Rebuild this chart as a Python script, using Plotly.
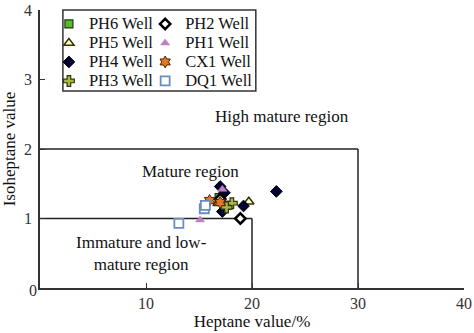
import plotly.graph_objects as go

# Data
ph6_x = [16.9, 17.6]
ph6_y = [1.30, 1.19]
ph5_x = [19.7, 16.8]
ph5_y = [1.24, 1.22]
ph4_x = [22.3, 17.0, 17.4, 17.2, 19.2]
ph4_y = [1.39, 1.46, 1.37, 1.10, 1.18]
ph3_x = [18.1, 17.6]
ph3_y = [1.22, 1.16]
ph2_x = [18.9, 17.0]
ph2_y = [1.00, 1.28]
ph1_x = [15.1, 17.2]
ph1_y = [0.98, 1.42]
cx1_x = [16.0, 17.0]
cx1_y = [1.26, 1.23]
dq1_x = [13.1, 15.5, 15.6]
dq1_y = [0.93, 1.14, 1.19]

x_ticks = [10, 20, 30, 40]
y_ticks = [1, 2, 3, 4]

FONT = "Liberation Serif, Times New Roman, serif"

fig = go.Figure()

def spacer(legend):
    # invisible empty entry (keeps the visible rows evenly spaced)
    fig.add_trace(go.Scatter(x=[], y=[], mode="markers", name=" ", legend=legend,
                             marker=dict(color="rgba(0,0,0,0)", size=1),
                             hoverinfo="skip"))

def add(name, xs, ys, symbol, color, lcolor, lwidth, size, legend):
    fig.add_trace(go.Scatter(
        x=xs, y=ys, mode="markers", legend=legend,
        name='<span style="font-size:16.5px">' + name + '</span>',
        marker=dict(symbol=symbol, color=color, size=size,
                    line=dict(color=lcolor, width=lwidth)),
    ))

spacer("legend")
add("PH6 Well", ph6_x, ph6_y, "square", "#5cb82e", "#1a3a10", 1.2, 8, "legend")
add("PH5 Well", ph5_x, ph5_y, "triangle-up", "#ffffcc", "#333300", 1.5, 9, "legend")
add("PH4 Well", ph4_x, ph4_y, "diamond", "#000030", "#000000", 1, 9, "legend")
add("PH3 Well", ph3_x, ph3_y, "cross", "#a8b840", "#333311", 1.2, 9, "legend")
spacer("legend2")
add("PH2 Well", ph2_x, ph2_y, "diamond", "#ffffff", "#000000", 2.5, 8, "legend2")
add("PH1 Well", ph1_x, ph1_y, "triangle-up", "#c080c0", "#c080c0", 0.5, 8, "legend2")
add("CX1 Well", cx1_x, cx1_y, "hexagram", "#e07828", "#552200", 1, 9, "legend2")
add("DQ1 Well", dq1_x, dq1_y, "square", "#ffffff", "#6a8cc0", 1.8, 9, "legend2")

# Region boundaries
line = dict(color="#222222", width=1.5)
fig.add_shape(type="line", x0=0, x1=30, y0=2, y1=2, line=line, layer="below")
fig.add_shape(type="line", x0=30, x1=30, y0=0, y1=2, line=line, layer="below")
fig.add_shape(type="line", x0=0, x1=20, y0=1, y1=1, line=line, layer="below")
fig.add_shape(type="line", x0=20, x1=20, y0=0, y1=1, line=line, layer="below")

# Legend box
fig.add_shape(type="rect", xref="paper", yref="paper",
              x0=0.054, x1=0.509, y0=0.709, y1=1.0,
              line=dict(color="#333333", width=1.5), fillcolor="rgba(0,0,0,0)")

ann_font = dict(family=FONT, size=17, color="#111111")
fig.add_annotation(x=22.8, y=2.47, text="High mature region", showarrow=False, font=ann_font)
fig.add_annotation(x=14.2, y=1.67, text="Mature region", showarrow=False, font=ann_font)
fig.add_annotation(x=9.6, y=0.5, text="Immature and low-<br>mature region", showarrow=False,
                   font=ann_font, align="center")
fig.add_annotation(xref="paper", yref="paper", x=-0.031, y=-0.045, text="0",
                   showarrow=False, font=dict(family=FONT, size=16, color="#333333"))

leg_font = dict(family=FONT, size=12, color="#111111")
fig.update_layout(
    width=474, height=333,
    margin=dict(l=40, r=10, t=10, b=45, autoexpand=False),
    plot_bgcolor="white", paper_bgcolor="white",
    font=dict(family=FONT, size=16, color="#222222"),
    showlegend=True,
    legend=dict(x=0.021, y=1.002, xanchor="left", yanchor="top",
                bgcolor="rgba(0,0,0,0)", borderwidth=0, font=leg_font,
                tracegroupgap=0, itemwidth=30, traceorder="normal"),
    legend2=dict(x=0.248, y=1.002, xanchor="left", yanchor="top",
                 bgcolor="rgba(0,0,0,0)", borderwidth=0, font=leg_font,
                 tracegroupgap=0, itemwidth=30, traceorder="normal"),
)

fig.update_xaxes(range=[0, 40], tickvals=x_ticks, ticks="inside", ticklen=5,
                 tickcolor="#333333", showline=True, linecolor="#333333", linewidth=1.5,
                 showgrid=False, zeroline=False, mirror=False,
                 tickfont=dict(family=FONT, size=16, color="#333333"),
                 title=dict(text="Heptane value/%", standoff=3,
                            font=dict(family=FONT, size=17, color="#111111")))
fig.update_yaxes(range=[0, 4], tickvals=y_ticks, ticks="inside", ticklen=5,
                 tickcolor="#333333", showline=True, linecolor="#333333", linewidth=1.5,
                 showgrid=False, zeroline=False, mirror=False, ticklabelstandoff=3,
                 tickfont=dict(family=FONT, size=16, color="#333333"),
                 title=dict(text="Isoheptane value", standoff=4,
                            font=dict(family=FONT, size=17, color="#111111")))

fig.write_html("out.html")
